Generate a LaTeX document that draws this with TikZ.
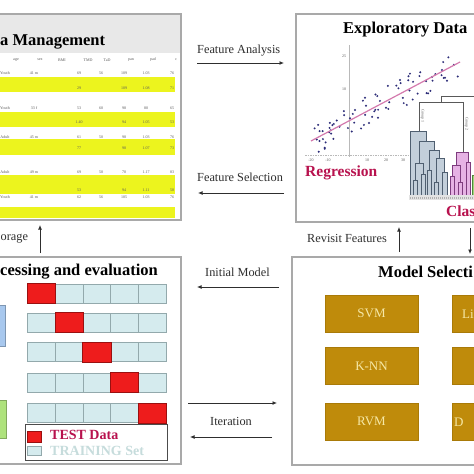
\documentclass[tikz,border=0pt]{standalone}
\usepackage{fontspec}
\setmainfont{Liberation Serif}
\usetikzlibrary{arrows.meta}
\definecolor{panelgray}{HTML}{A9A9A9}
\definecolor{headgray}{HTML}{E8E8E8}
\definecolor{rowyellow}{HTML}{ECF41E}
\definecolor{tabtext}{HTML}{5A5A5A}
\definecolor{labgray}{HTML}{2E2E2E}
\definecolor{crimson}{HTML}{B8124E}
\definecolor{testred}{HTML}{EE1C1C}
\definecolor{testredline}{HTML}{9A1010}
\definecolor{trainfill}{HTML}{D5EBEE}
\definecolor{trainline}{HTML}{93A9AC}
\definecolor{traintext}{HTML}{C6DCDC}
\definecolor{gold}{HTML}{BF8B0B}
\definecolor{goldline}{HTML}{A97A08}
\definecolor{goldtext}{HTML}{F6E8A6}
\definecolor{dotblue}{HTML}{2C2C78}
\definecolor{regline}{HTML}{D47AAE}
\definecolor{dendgray}{HTML}{C3CFDA}
\definecolor{dendgrayline}{HTML}{4F5F70}
\definecolor{dendpink}{HTML}{E6B2E4}
\definecolor{dendpinkline}{HTML}{7E3C7E}
\definecolor{dendgreen}{HTML}{9ED57A}
\definecolor{dendgreenline}{HTML}{4E8A3A}
\definecolor{sideblue}{HTML}{A8C8EE}
\definecolor{sidegreen}{HTML}{AEE27C}
\newcommand\dendbr[4]{\filldraw[fill=#4, draw=#4line, line width=0.6pt] (#1,195) -- (#1,#3) -- (#2,#3) -- (#2,195);}
\tikzset{
  panel/.style={draw=panelgray, line width=1.2pt, fill=white},
  flow/.style={draw=labgray, line width=0.9pt, -{Latex[length=4.5pt,width=4pt]}},
  flowlabel/.style={text=labgray, font=\fontsize{12.3}{13}\selectfont, inner sep=0, anchor=base west},
  ptitle/.style={font=\fontsize{16.5}{18}\selectfont\bfseries, inner sep=0, anchor=base west},
  tab/.style={font=\fontsize{4}{4.5}\selectfont, text=tabtext, inner sep=0},
  cell/.style={draw=trainline, fill=trainfill, line width=0.7pt},
  testcell/.style={draw=testredline, fill=testred, line width=0.8pt},
  modelbox/.style={draw=goldline, fill=gold, line width=0.6pt, minimum width=93pt, minimum height=37pt, inner sep=0},
  modeltext/.style={text=goldtext, font=\fontsize{13}{14}\selectfont},
  crim/.style={text=crimson, font=\fontsize{15.5}{17}\selectfont\bfseries, inner sep=0, anchor=base west}
}
\begin{document}
\begin{tikzpicture}[x=1pt,y=-1pt]
\useasboundingbox (0,0) rectangle (474,474);
\clip (0,0) rectangle (474,474);
\fill[white] (0,0) rectangle (474,474);

% ---------------- Data Management panel
\draw[panel] (-5,14) rectangle (181,220);
\fill[headgray] (-4.4,14.6) rectangle (180.4,53);
\fill[rowyellow] (-4.4,77) rectangle (175,92);
\fill[rowyellow] (-4.4,112) rectangle (175,127);
\fill[rowyellow] (-4.4,139) rectangle (175,155);
\fill[rowyellow] (-4.4,175) rectangle (175,194);
\fill[rowyellow] (-4.4,207) rectangle (175,218);
\node[ptitle] (dmtitle) at (0,45) {a Management};
\foreach \t/\x in {age/16,sex/40,BMI/62,TMD/88,TaD/107,pan/131,pad/153,c/176}{
  \node[tab] at (\x,60) {\t};}
\foreach \y/\a/\b/\c/\d/\e/\f/\g in {73/Youth/41 m/69/56/109/1.03/76, 108/Youth/33 f/53/60/98/80/65, 137/Adult/45 m/61/50/98/1.03/76, 172/Adult/49 m/69/50/70/1.17/83, 197/Youth/41 m/62/56/105/1.03/76}{
  \node[tab] at (5,\y) {\a}; \node[tab] at (34,\y) {\b}; \node[tab] at (79,\y) {\c};
  \node[tab] at (101,\y) {\d}; \node[tab] at (124,\y) {\e}; \node[tab] at (146,\y) {\f};
  \node[tab] at (172,\y) {\g};}
\foreach \y/\c/\e/\f/\g in {88/29/109/1.08/71, 122/1.40/94/1.05/53, 148/77/98/1.07/73, 190/53/94/1.11/58}{
  \node[tab] at (79,\y) {\c}; \node[tab] at (124,\y) {\e}; \node[tab] at (146,\y) {\f};
  \node[tab] at (172,\y) {\g};}

% ---------------- Exploratory Data panel
\draw[panel] (296,14) rectangle (480,222);
\node[ptitle] (edatitle) at (343,33) {Exploratory Data};
\draw[gray!55, line width=0.5pt] (349,45) -- (349,157);
\draw[gray!55, line width=0.6pt, dash pattern=on 1.5pt off 1pt] (305,155) -- (412,155);
\node[tab] at (344,56) {25};
\node[tab] at (344,89) {10};
\foreach \t/\x in {-20/311,-10/328,10/367,20/386,30/403}{\node[tab] at (\x,160) {\t};}
\pgfmathsetseed{7}
\foreach \i in {1,...,80}{
  \pgfmathsetmacro\px{314+146*rnd}
  \pgfmathsetmacro\py{141-0.53*(\px-311)+15*rand}
  \fill[dotblue] (\px,\py) circle (1.1pt);}
\draw[regline, line width=1.2pt] (311,141) -- (460,62);
\node[crim] (regr) at (305,176) {Regression};
% dendrogram
\fill[gray!22] (409,195) rectangle (476,200);
\draw[gray!60, line width=2pt, dash pattern=on 1.2pt off 0.8pt] (410,197.5) -- (476,197.5);
\draw[gray!70!black, line width=0.7pt] (419,131) -- (419,102) -- (463,102) -- (463,152);
\draw[gray!70!black, line width=0.7pt] (441,102) -- (441,96) -- (480,96);
\node[tab, rotate=-90] at (422.5,116) {Group 1};
\node[tab, rotate=-90] at (466.5,124) {Group 2};
\dendbr{410}{426}{131}{dendgray}
\dendbr{419}{434}{141}{dendgray}
\dendbr{415}{423}{163}{dendgray}
\dendbr{413}{417}{180}{dendgray}
\dendbr{421}{425}{174}{dendgray}
\dendbr{429}{439}{150}{dendgray}
\dendbr{427}{431}{170}{dendgray}
\dendbr{436}{444}{158}{dendgray}
\dendbr{442}{447}{172}{dendgray}
\dendbr{434}{438}{182}{dendgray}
\dendbr{456}{468}{152}{dendpink}
\dendbr{452}{460}{165}{dendpink}
\dendbr{450}{454}{176}{dendpink}
\dendbr{458}{462}{182}{dendpink}
\dendbr{466}{470}{162}{dendpink}
\dendbr{472}{481}{175}{dendgreen}
\dendbr{474}{478}{185}{dendgreen}
\node[crim] (clas) at (446,216) {Clas};

% ---------------- Processing and evaluation panel
\draw[panel] (-5,257) rectangle (181,464);
\node[ptitle] (petitle) at (0,275) {cessing and evaluation};
\draw[fill=sideblue, draw=sideblue!75!black, line width=0.5pt] (-5,305) rectangle (5,346);
\draw[fill=sidegreen, draw=sidegreen!75!black, line width=0.5pt] (-5,400) rectangle (6,438);
\foreach \yc in {293.5,322.5,352,382.5,413}{
  \foreach \c in {1,...,5}{
    \pgfmathsetmacro\xl{27.5+27.7*(\c-1)}
    \draw[cell] (\xl,\yc-9.5) rectangle (\xl+27.7,\yc+9.5);}}
\foreach \r/\yc in {1/293.5,2/322.5,3/352,4/382.5,5/413}{
  \pgfmathsetmacro\xl{27.5+27.7*(\r-1)}
  \draw[testcell] (\xl-0.3,\yc-10) rectangle (\xl+28,\yc+10);}
\draw[gray!60!black, line width=0.7pt, fill=white] (25,424) rectangle (167,460);
\draw[testcell] (27,431) rectangle (41,442);
\draw[cell] (27,446) rectangle (41,455);
\node[crim, font=\fontsize{14}{15}\selectfont\bfseries] (testlab) at (50,439) {TEST Data};
\node[crim, text=traintext, font=\fontsize{14}{15}\selectfont\bfseries] (trainlab) at (50,455.5) {TRAINING Set};

% ---------------- Model Selection panel
\draw[panel] (292,257) rectangle (480,465);
\node[ptitle] (mstitle) at (378,277) {Model Selecti};
\node[modelbox, modeltext] (svm) at (371.5,313.5) {SVM};
\node[modelbox, modeltext] (knn) at (371.5,366) {K-NN};
\node[modelbox, modeltext] (rvm) at (371.5,421.5) {RVM};
\node[modelbox] (m4) at (498.5,313.5) {};
\node[modelbox] (m5) at (498.5,366) {};
\node[modelbox] (m6) at (498.5,421.5) {};
\node[modeltext, anchor=base west, inner sep=0] at (462,318) {Li};
\node[modeltext, anchor=base west, inner sep=0] at (454,426) {D};

% ---------------- connectors
\coordinate (faS) at (197,63);  \coordinate (faE) at (284,63);
\coordinate (fsS) at (284,193); \coordinate (fsE) at (198,193);
\coordinate (stS) at (40,253);  \coordinate (stE) at (40,225);
\coordinate (rvS) at (399,252); \coordinate (rvE) at (399,227);
\coordinate (dnS) at (470,228); \coordinate (dnE) at (470,254);
\coordinate (imS) at (279,287); \coordinate (imE) at (197,287);
\coordinate (irS) at (188,403); \coordinate (irE) at (277,403);
\coordinate (ilS) at (272,437); \coordinate (ilE) at (190,437);
\draw[flow] (faS) -- (faE);
\draw[flow] (fsS) -- (fsE);
\draw[flow] (stS) -- (stE);
\draw[flow] (rvS) -- (rvE);
\draw[flow] (dnS) -- (dnE);
\draw[flow] (imS) -- (imE);
\draw[flow] (irS) -- (irE);
\draw[flow] (ilS) -- (ilE);
\node[flowlabel] (fal) at (197,53) {Feature Analysis};
\node[flowlabel] (fsl) at (197,181) {Feature Selection};
\node[flowlabel] (rvl) at (307,242) {Revisit Features};
\node[flowlabel] (stl) at (0.5,240) {orage};
\node[flowlabel] (iml) at (205,276) {Initial Model};
\node[flowlabel] (itl) at (210,425) {Iteration};
\end{tikzpicture}
\end{document}
